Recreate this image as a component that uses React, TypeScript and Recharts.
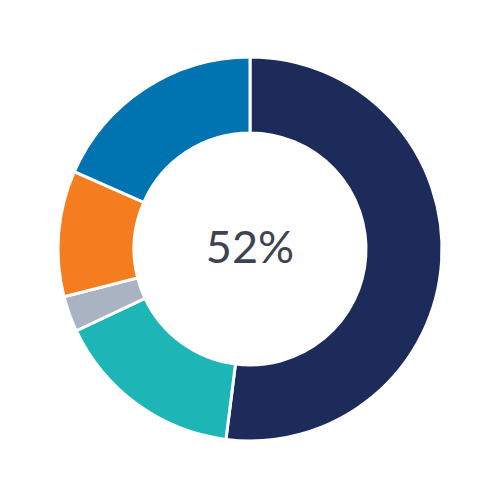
import { Cell, Label, Pie, PieChart } from 'recharts'

const segments = ['Navy', 'Teal', 'Gray', 'Orange', 'Blue']
const shares = [52, 16, 3, 10.6, 18.4]
const colors = ['#1c2b5a', '#1db5b5', '#a9b3c1', '#f47d20', '#0073b1']
const centerLabel = '52%'

const chartData = segments.map((name, i) => ({ name, value: shares[i] }))

export default function App() {
  return (
    <div style={{ position: 'absolute', left: 0, top: 0, background: '#fff' }}>
      <PieChart width={500} height={500} margin={{ top: 0, right: 0, bottom: 0, left: 0 }}>
        <Pie
          data={chartData}
          dataKey='value'
          cx={250}
          cy={249}
          innerRadius={116}
          outerRadius={192}
          startAngle={90}
          endAngle={-270}
          stroke='#ffffff'
          strokeWidth={3}
          isAnimationActive={false}
        >
          {chartData.map((entry, i) => (
            <Cell key={entry.name} fill={colors[i]} />
          ))}
          <Label
            value={centerLabel}
            position='center'
            fill='#3d4350'
            fontSize={45}
            dy={-3}
            fontFamily='Lato, sans-serif'
          />
        </Pie>
      </PieChart>
    </div>
  )
}
